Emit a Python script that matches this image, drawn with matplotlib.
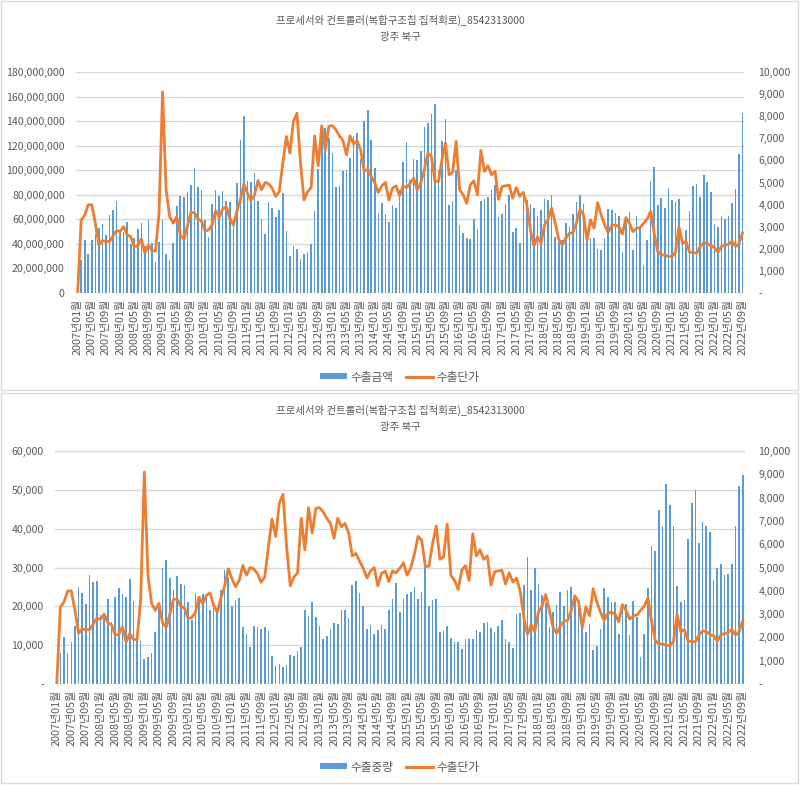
import numpy as np
import matplotlib
matplotlib.use("Agg")
import matplotlib.pyplot as plt
from matplotlib.ticker import FuncFormatter, MultipleLocator
from matplotlib.patches import Patch, Rectangle
from matplotlib.lines import Line2D

plt.rcParams['font.family'] = ['Noto Sans CJK KR', 'DejaVu Sans']

# 월별 데이터 2007년01월 ~ 2022년09월
start_year = 2007
title = "프로세서와 컨트롤러(복합구조칩 집적회로)_8542313000"
region = "광주 북구"

# 수출금액 (백만 단위)
export_amount_m = [
    0, 27, 43, 32, 43, 48, 53, 56, 47, 63.5, 67.6, 75,                       # 2007
    48.6, 50, 57.5, 40, 45, 52, 57, 38, 59.4, 41, 25.5, 41.5,                # 2008
    59.4, 32, 27, 41, 70.8, 79, 78, 82, 87.7, 102, 86, 84,                   # 2009
    59.4, 45.9, 72.5, 83.6, 79, 82.8, 75, 74, 58.5, 89.5, 125, 144,          # 2010
    91.5, 90.4, 97.4, 75, 60, 47.8, 74.4, 69.5, 62, 67.6, 81.7, 50.5,        # 2011
    30, 38, 36, 27.7, 31.7, 33.4, 40, 67, 101, 135, 134, 126,                # 2012
    114, 86, 87, 99, 100, 110, 128, 130.5, 109, 140, 149, 125,               # 2013
    101.5, 65, 73, 64, 58, 71.4, 69, 84, 106.5, 123, 92, 109,                # 2014
    108, 116, 135, 138.7, 146, 154, 100, 124, 142, 71.4, 75, 100,            # 2015
    55, 48.6, 44.5, 44, 60, 52, 74.6, 76.5, 78, 84, 87.7, 61.6,              # 2016
    64, 72.5, 79.8, 50, 52.6, 41, 81, 75.7, 72.5, 69, 63, 67.6,              # 2017
    76.5, 75.7, 79.8, 45.3, 41.8, 43, 56.7, 54, 64.3, 74.4, 79.8, 72.5,      # 2018
    44.5, 44.5, 45, 35.8, 35, 44.5, 68.4, 67.3, 65, 62.7, 33.6, 62,          # 2019
    66, 35, 62.7, 52.6, 22.5, 43, 91, 102.6, 71.6, 77.6, 69.5, 85.8,         # 2020
    75.7, 74, 76.5, 41.8, 51.3, 66.8, 87, 89, 78.4, 96, 90.4, 82,            # 2021
    56, 54, 63, 60, 62.7, 73.5, 84.7, 113, 147,                              # 2022
]

# 수출중량
export_weight = [
    0, 7900, 12200, 8070, 10800, 14900, 24900, 23500, 20600, 28000, 26200, 26400,
    17800, 18000, 21900, 16000, 22300, 24700, 23100, 22500, 27000, 21500, 12000, 11000,
    6500, 7000, 7900, 13300, 20500, 29900, 31900, 27400, 24200, 27800, 25700, 25500,
    21000, 16500, 23500, 22700, 23200, 22100, 19000, 19500, 19000, 24200, 29300, 27600,
    20100, 21600, 22100, 14800, 12900, 9600, 15000, 14800, 14200, 14600, 13700, 7200,
    4700, 5100, 4500, 4800, 7500, 7300, 8400, 9500, 19100, 17600, 21100, 17200,
    15000, 11600, 12400, 14200, 15600, 15500, 19100, 19000, 17100, 25400, 26400, 23500,
    20200, 14200, 15200, 12800, 13900, 15200, 14200, 19100, 21800, 26000, 18600, 21900,
    23200, 23700, 25100, 22000, 23700, 30200, 20100, 21600, 21900, 13500, 13600, 15000,
    11900, 10700, 10900, 9000, 11700, 11600, 11600, 13900, 13500, 15800, 15900, 14500,
    13300, 15000, 16400, 11600, 10700, 9300, 18000, 18200, 25500, 32600, 24200, 29800,
    25700, 23000, 20800, 14700, 18600, 20300, 23600, 20100, 24200, 25000, 22500, 21200,
    16000, 13500, 15400, 8700, 9800, 14100, 24700, 22300, 21100, 21100, 12800, 20900,
    20500, 12500, 21300, 17300, 7000, 13000, 24700, 35500, 34200, 44900, 40600, 51400,
    46200, 40600, 25200, 21100, 21600, 37400, 46700, 49900, 36400, 41700, 40700, 39200,
    26900, 30000, 31000, 28000, 28400, 31000, 40600, 51000, 53700,
]

# 수출단가
unit_price = [
    0, 3300, 3530, 3990, 3990, 3160, 2175, 2370, 2330, 2330, 2580, 2825,
    2780, 3000, 2630, 2550, 2100, 2130, 2450, 1800, 2175, 1920, 1900, 3600,
    9100, 4670, 3460, 3160, 3460, 2630, 2430, 3000, 3640, 3640, 3340, 3260,
    2810, 2850, 3080, 3730, 3430, 3800, 3910, 3380, 3080, 3690, 4210, 4940,
    4520, 4180, 4440, 5090, 4670, 5000, 4940, 4740, 4370, 4590, 5880, 7080,
    6330, 7760, 8140, 5880, 4210, 4590, 4770, 7110, 5760, 7570, 6480, 7540,
    7570, 7390, 7110, 6900, 6250, 7110, 6750, 6890, 6480, 5500, 5600, 5270,
    4970, 4550, 4850, 5000, 4210, 4740, 4850, 4400, 4850, 4770, 4970, 5200,
    4670, 4970, 5570, 6330, 6180, 5050, 5050, 6030, 6780, 5350, 5450, 6860,
    4670, 4440, 4060, 4890, 5080, 4440, 6450, 5500, 5760, 5350, 5500, 4240,
    4820, 4850, 4880, 4290, 4770, 4370, 4550, 3990, 2850, 2130, 2550, 2250,
    3080, 3340, 3840, 3160, 2430, 2175, 2480, 2700, 2730, 3160, 3790, 3530,
    2400, 3310, 2930, 4090, 3530, 3080, 2730, 3050, 3080, 3000, 2670, 3410,
    3160, 2780, 2930, 2960, 3160, 3340, 3690, 2700, 1870, 1720, 1720, 1650,
    1650, 1830, 3000, 2250, 2330, 1840, 1830, 1800, 2100, 2280, 2250, 2130,
    2070, 1840, 2100, 2175, 2200, 2360, 2100, 2250, 2730,
]

n = len(unit_price)
labels = [f"{start_year + i // 12}년{i % 12 + 1:02d}월" for i in range(n)]

BLUE = "#5B9BD5"
ORANGE = "#ED7D31"
GRID = "#D9D9D9"
TXT = "#595959"

W, H = 800, 785
fig = plt.figure(figsize=(W / 100, H / 100), dpi=100)


def box(x0, y0, x1, y1):
    return [x0 / W, 1 - y1 / H, (x1 - x0) / W, (y1 - y0) / H]


def draw_chart(rect, bars, bar_max, bar_step, bar_name, zero_label, title_y, legend_y):
    x = np.arange(n)
    ax = fig.add_axes(rect)
    ax.bar(x, bars, width=0.45, color=BLUE, zorder=2)
    ax.set_xlim(-0.5, n - 0.5)
    ax.set_ylim(0, bar_max)
    ax.yaxis.set_major_locator(MultipleLocator(bar_step))
    ax.yaxis.set_major_formatter(FuncFormatter(
        lambda v, p: zero_label if v == 0 else f"{v:,.0f}"))
    ax.yaxis.grid(True, color=GRID, lw=1)
    ax.set_axisbelow(True)
    ax.set_xticks(x[::4])
    ax.set_xticklabels(labels[::4], rotation=90, fontsize=7.8, color=TXT)
    ax.tick_params(axis='x', length=0, pad=4)
    ax.tick_params(axis='y', length=0, pad=8, labelsize=7.6, labelcolor=TXT)
    for s in ax.spines.values():
        s.set_visible(False)

    ax2 = ax.twinx()
    ax2.plot(x, unit_price, color=ORANGE, lw=2.0, zorder=3)
    ax2.set_ylim(0, 10000)
    ax2.yaxis.set_major_locator(MultipleLocator(1000))
    ax2.yaxis.set_major_formatter(FuncFormatter(
        lambda v, p: "-" if v == 0 else f"{v:,.0f}"))
    ax2.tick_params(axis='y', length=0, pad=10, labelsize=7.6, labelcolor=TXT)
    for s in ax2.spines.values():
        s.set_visible(False)

    fig.text(0.5, 1 - title_y / H, title, ha='center', va='center', fontsize=7.5, color=TXT)
    fig.text(0.5, 1 - (title_y + 17) / H, region, ha='center', va='center', fontsize=7.5, color=TXT)

    handles = [Patch(facecolor=BLUE, edgecolor='none', label=bar_name),
               Line2D([0], [0], color=ORANGE, lw=2.2, label="수출단가")]
    fig.legend(handles=handles, loc='center', bbox_to_anchor=(0.5, 1 - legend_y / H),
               ncol=2, frameon=False, fontsize=8.4, labelcolor=TXT,
               handlelength=2.3, handleheight=0.45, handletextpad=0.3, columnspacing=1.1)


amount = np.array(export_amount_m) * 1e6
draw_chart(box(75.9, 72, 744.4, 293), amount, 180e6, 20e6, "수출금액", "0", 20, 377)
draw_chart(box(54.9, 451, 744.6, 684), export_weight, 60000, 10000, "수출중량", "-", 410, 767)

for y0, y1 in [(1, 390), (393, 783)]:
    fig.patches.append(Rectangle((1 / W, 1 - y1 / H), 797 / W, (y1 - y0) / H,
                                 transform=fig.transFigure, fill=False,
                                 edgecolor=GRID, lw=1))

fig.savefig("out.png", dpi=100)
